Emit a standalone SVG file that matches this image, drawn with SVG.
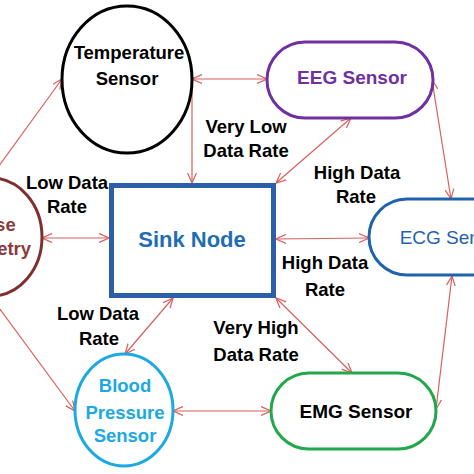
<svg xmlns="http://www.w3.org/2000/svg" width="474" height="474" viewBox="0 0 474 474">
<style>
text{font-family:"Liberation Sans",Arial,sans-serif;font-weight:bold;font-size:18.5px;text-anchor:middle}
.lbl{fill:#000}
.conn line{stroke:#DA5F5C;stroke-width:1.2;fill:none}
.both{marker-start:url(#ah);marker-end:url(#ah)}
.end{marker-end:url(#ah)}
</style>
<defs>
<marker id="ah" viewBox="0 0 10 10" refX="10" refY="5" markerWidth="10" markerHeight="10" markerUnits="userSpaceOnUse" orient="auto-start-reverse">
<path d="M0,0.5 L10,5 L0,9.5" fill="none" stroke="#DA5F5C" stroke-width="1.2"/>
</marker>
</defs>
<rect width="474" height="474" fill="#fff"/>
<g id="connectors" class="conn">
<line class="end" x1="-9" y1="177" x2="62" y2="79"/>
<line class="both" x1="192" y1="79" x2="267" y2="79"/>
<line class="end" x1="192" y1="79" x2="192" y2="183"/>
<line class="both" x1="351" y1="118" x2="276" y2="183"/>
<line class="both" x1="432" y1="80" x2="451" y2="199"/>
<line class="both" x1="276" y1="239" x2="369" y2="238"/>
<line class="both" x1="276" y1="298" x2="352" y2="373"/>
<line class="both" x1="452" y1="276" x2="436" y2="409"/>
<line class="both" x1="173" y1="411" x2="271" y2="411"/>
<line class="both" x1="173" y1="298" x2="125" y2="354"/>
<line class="end" x1="-9" y1="297" x2="75" y2="411"/>
<line class="both" x1="42" y1="238" x2="109" y2="238"/>
</g>
<g id="temperature">
<ellipse cx="127" cy="79.5" rx="65" ry="73.5" fill="#fff" stroke="#000" stroke-width="3"/>
<text x="129" y="59" fill="#000">Temperature</text>
<text x="127" y="85" fill="#000">Sensor</text>
</g>
<g id="eeg">
<rect x="267" y="42" width="166" height="76" rx="38" fill="#fff" stroke="#7030A0" stroke-width="3"/>
<text x="352" y="84" fill="#7030A0" style="font-size:19px">EEG Sensor</text>
</g>
<g id="sink">
<rect x="111.5" y="185.5" width="162" height="110" fill="#fff" stroke="#2B5FA8" stroke-width="5"/>
<text x="192" y="247" fill="#1F6DB5" style="font-size:22px">Sink Node</text>
</g>
<g id="ecg">
<rect x="369" y="199" width="170" height="76" rx="38" fill="#fff" stroke="#1F62AE" stroke-width="3"/>
<text x="453" y="244" fill="#1F62AE" style="font-weight:normal;font-size:19px">ECG Sensor</text>
</g>
<g id="emg">
<rect x="271" y="373" width="165" height="76" rx="38" fill="#fff" stroke="#21A84A" stroke-width="3"/>
<text x="356" y="418" fill="#000" style="font-size:19px">EMG Sensor</text>
</g>
<g id="blood">
<ellipse cx="124" cy="410" rx="49" ry="56" fill="#fff" stroke="#1BA9E1" stroke-width="3"/>
<text x="125" y="392" fill="#1BA9E1">Blood</text>
<text x="125" y="419" fill="#1BA9E1">Pressure</text>
<text x="125" y="442" fill="#1BA9E1">Sensor</text>
</g>
<g id="pulse">
<ellipse cx="-9" cy="237" rx="51" ry="59" fill="#fff" stroke="#7F2F2F" stroke-width="3"/>
<text x="-9" y="231" fill="#8B3A3A">Pulse</text>
<text x="-9" y="255" fill="#8B3A3A">Oximetry</text>
</g>
<g id="labels">
<text class="lbl" x="246" y="133">Very Low</text>
<text class="lbl" x="246" y="157">Data Rate</text>
<text class="lbl" x="357" y="179">High Data</text>
<text class="lbl" x="356" y="203">Rate</text>
<text class="lbl" x="67" y="189">Low Data</text>
<text class="lbl" x="67" y="213">Rate</text>
<text class="lbl" x="325" y="269">High Data</text>
<text class="lbl" x="325" y="296">Rate</text>
<text class="lbl" x="98" y="320">Low Data</text>
<text class="lbl" x="99" y="345">Rate</text>
<text class="lbl" x="256" y="334">Very High</text>
<text class="lbl" x="256" y="361">Data Rate</text>
</g>
</svg>
